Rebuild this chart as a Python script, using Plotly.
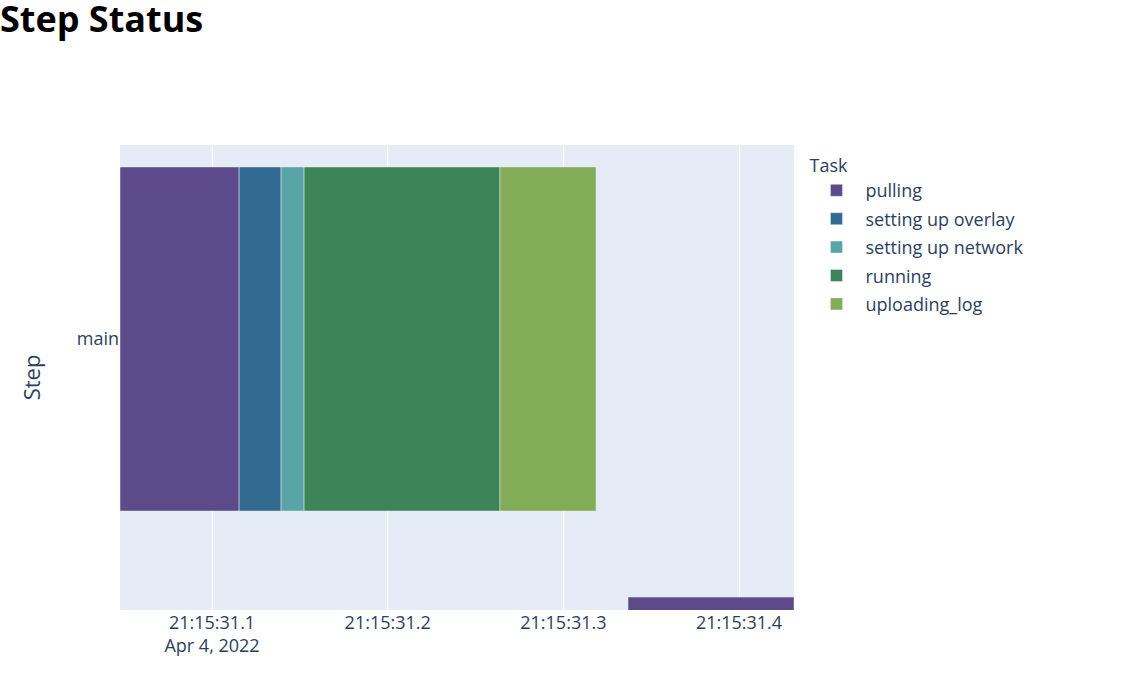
import plotly.graph_objects as go
import pandas as pd

# Data
steps = ["main", "main", "main", "main", "main", "cleanup"]
tasks = ["pulling", "setting up overlay", "setting up network", "running", "uploading_log", "pulling"]
starts = ["2022-04-04 21:15:31.0476", "2022-04-04 21:15:31.1154", "2022-04-04 21:15:31.1393",
          "2022-04-04 21:15:31.1524", "2022-04-04 21:15:31.2639", "2022-04-04 21:15:31.3368"]
ends = ["2022-04-04 21:15:31.1154", "2022-04-04 21:15:31.1393", "2022-04-04 21:15:31.1524",
        "2022-04-04 21:15:31.2639", "2022-04-04 21:15:31.3186", "2022-04-04 21:15:31.4313"]
task_order = ["pulling", "setting up overlay", "setting up network", "running", "uploading_log"]
colors = ["#5d4a8a", "#336a92", "#58a4a6", "#3d8458", "#82ac57"]
step_order = ["main", "cleanup"]

df = pd.DataFrame({"Step": steps, "Task": tasks,
                   "Start": pd.to_datetime(starts), "End": pd.to_datetime(ends)})

fig = go.Figure()
for t, c in zip(task_order, colors):
    d = df[df["Task"] == t]
    dur = (d["End"] - d["Start"]).dt.total_seconds() * 1000
    fig.add_trace(go.Bar(
        y=d["Step"], x=dur, base=d["Start"], orientation="h", name=t,
        marker=dict(color=c, line=dict(color="#E5ECF6", width=0.5)),
        legendgroup=t, showlegend=True,
    ))

fig.update_layout(
    template="plotly",
    barmode="overlay",
    width=1122, height=686,
    font=dict(family="Open Sans", size=18, color="#2a3f5f"),
    title=dict(text="<b>Step Status</b>", x=0, xanchor="left", y=1, yanchor="top",
               pad=dict(t=7, l=0), font=dict(size=36, color="black")),
    margin=dict(l=120, r=328, t=145, b=76, autoexpand=False),
    legend=dict(title=dict(text="Task", font=dict(size=18)), itemwidth=48,
                tracegroupgap=2, y=0.992, yanchor="top"),
    xaxis=dict(type="date",
               range=["2022-04-04 21:15:31.0476", "2022-04-04 21:15:31.4313"],
               dtick=100, tick0="2022-04-04 21:15:31.0"),
    yaxis=dict(title=dict(text="Step", standoff=30), type="category",
               categoryorder="array", categoryarray=step_order,
               range=[0.630, -0.451]),
)

fig.write_html("out.html")
